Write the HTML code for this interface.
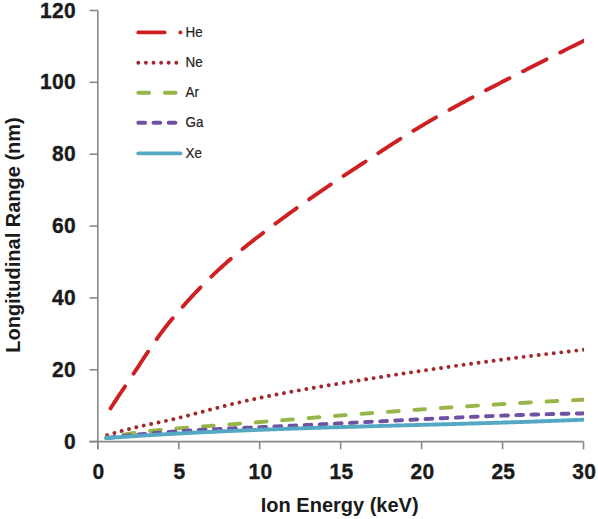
<!DOCTYPE html>
<html><head><meta charset="utf-8"><style>
html,body{margin:0;padding:0;background:#fff;width:598px;height:519px;overflow:hidden}
svg{display:block}
</style></head><body>
<svg width="598" height="519" viewBox="0 0 598 519">
<g stroke="#888888" stroke-width="1.6" fill="none" stroke-linecap="butt">
<line x1="97.8" y1="10.50" x2="97.8" y2="449.3"/>
<line x1="89.5" y1="441.6" x2="583.50" y2="441.6"/>
<line x1="89.5" y1="441.60" x2="97.8" y2="441.60"/><line x1="89.5" y1="369.75" x2="97.8" y2="369.75"/><line x1="89.5" y1="297.90" x2="97.8" y2="297.90"/><line x1="89.5" y1="226.05" x2="97.8" y2="226.05"/><line x1="89.5" y1="154.20" x2="97.8" y2="154.20"/><line x1="89.5" y1="82.35" x2="97.8" y2="82.35"/><line x1="89.5" y1="10.50" x2="97.8" y2="10.50"/><line x1="97.80" y1="441.6" x2="97.80" y2="449.3"/><line x1="178.75" y1="441.6" x2="178.75" y2="449.3"/><line x1="259.70" y1="441.6" x2="259.70" y2="449.3"/><line x1="340.65" y1="441.6" x2="340.65" y2="449.3"/><line x1="421.60" y1="441.6" x2="421.60" y2="449.3"/><line x1="502.55" y1="441.6" x2="502.55" y2="449.3"/><line x1="583.50" y1="441.6" x2="583.50" y2="449.3"/>
</g>
<g font-family="'Liberation Sans', sans-serif" font-weight="bold" font-size="21" fill="#1a1a1a" stroke="#1a1a1a" stroke-width="0.35" letter-spacing="0.3"><text transform="translate(76.0,448.70) scale(1,1.09)" text-anchor="end">0</text><text transform="translate(76.0,376.85) scale(1,1.09)" text-anchor="end">20</text><text transform="translate(76.0,305.00) scale(1,1.09)" text-anchor="end">40</text><text transform="translate(76.0,233.15) scale(1,1.09)" text-anchor="end">60</text><text transform="translate(76.0,161.30) scale(1,1.09)" text-anchor="end">80</text><text transform="translate(76.0,89.45) scale(1,1.09)" text-anchor="end">100</text><text transform="translate(76.0,17.60) scale(1,1.09)" text-anchor="end">120</text><text transform="translate(98.60,479.0) scale(1,1.09)" text-anchor="middle">0</text><text transform="translate(179.55,479.0) scale(1,1.09)" text-anchor="middle">5</text><text transform="translate(260.50,479.0) scale(1,1.09)" text-anchor="middle">10</text><text transform="translate(341.45,479.0) scale(1,1.09)" text-anchor="middle">15</text><text transform="translate(422.40,479.0) scale(1,1.09)" text-anchor="middle">20</text><text transform="translate(503.35,479.0) scale(1,1.09)" text-anchor="middle">25</text><text transform="translate(584.30,479.0) scale(1,1.09)" text-anchor="middle">30</text></g>
<text x="339.7" y="512.2" text-anchor="middle" font-family="'Liberation Sans', sans-serif" font-weight="bold" font-size="20" fill="#1a1a1a">Ion Energy (keV)</text>
<text transform="translate(20.2,235) rotate(-90)" text-anchor="middle" font-family="'Liberation Sans', sans-serif" font-weight="bold" font-size="20" fill="#1a1a1a">Longitudinal Range (nm)</text>
<defs><clipPath id="c"><rect x="0" y="0" width="584.0" height="519"/></clipPath></defs>
<g clip-path="url(#c)"><path d="M110.4,408.64 111.4,407.06 112.4,405.49 113.4,403.93 114.4,402.38 115.4,400.85 116.4,399.32 117.4,397.80 118.4,396.29 119.4,394.79 120.4,393.29 121.4,391.79 122.4,390.30 123.4,388.82 124.4,387.33 125.4,385.85 126.4,384.37 127.4,382.88 128.4,381.40 129.4,379.91 130.4,378.43 131.4,376.93 132.4,375.44 133.4,373.93 134.4,372.42 135.4,370.91 136.4,369.39 137.4,367.86 138.4,366.34 139.4,364.81 140.4,363.28 141.4,361.75 142.4,360.22 143.4,358.69 144.4,357.17 145.4,355.65 146.4,354.13 147.4,352.62 148.4,351.11 149.4,349.62 150.4,348.13 151.4,346.65 152.4,345.18 153.4,343.73 154.4,342.28 155.4,340.85 156.4,339.44 157.4,338.04 158.4,336.65 159.4,335.28 160.4,333.93 161.4,332.58 162.4,331.25 163.4,329.94 164.4,328.64 165.4,327.35 166.4,326.07 167.4,324.80 168.4,323.55 169.4,322.31 170.4,321.07 171.4,319.85 172.4,318.64 173.4,317.44 174.4,316.24 175.4,315.06 176.4,313.88 177.4,312.71 178.4,311.55 179.4,310.40 180.4,309.25 181.4,308.11 182.4,306.97 183.4,305.84 184.4,304.72 185.4,303.60 186.4,302.49 187.4,301.38 188.4,300.28 189.4,299.18 190.4,298.09 191.4,297.01 192.4,295.93 193.4,294.86 194.4,293.79 195.4,292.73 196.4,291.68 197.4,290.63 198.4,289.58 199.4,288.55 200.4,287.51 201.4,286.49 202.4,285.47 203.4,284.45 204.4,283.44 205.4,282.44 206.4,281.44 207.4,280.45 208.4,279.47 209.4,278.49 210.4,277.51 211.4,276.55 212.4,275.59 213.4,274.63 214.4,273.68 215.4,272.74 216.4,271.80 217.4,270.87 218.4,269.94 219.4,269.02 220.4,268.10 221.4,267.19 222.4,266.28 223.4,265.38 224.4,264.49 225.4,263.60 226.4,262.71 227.4,261.83 228.4,260.95 229.4,260.08 230.4,259.21 231.4,258.35 232.4,257.49 233.4,256.64 234.4,255.79 235.4,254.94 236.4,254.10 237.4,253.26 238.4,252.43 239.4,251.60 240.4,250.77 241.4,249.95 242.4,249.13 243.4,248.32 244.4,247.51 245.4,246.70 246.4,245.90 247.4,245.09 248.4,244.30 249.4,243.50 250.4,242.71 251.4,241.92 252.4,241.14 253.4,240.35 254.4,239.57 255.4,238.79 256.4,238.02 257.4,237.25 258.4,236.48 259.4,235.71 260.4,234.94 261.4,234.18 262.4,233.42 263.4,232.66 264.4,231.90 265.4,231.14 266.4,230.39 267.4,229.64 268.4,228.89 269.4,228.14 270.4,227.39 271.4,226.65 272.4,225.90 273.4,225.16 274.4,224.42 275.4,223.68 276.4,222.94 277.4,222.20 278.4,221.46 279.4,220.73 280.4,219.99 281.4,219.26 282.4,218.52 283.4,217.79 284.4,217.06 285.4,216.33 286.4,215.60 287.4,214.87 288.4,214.15 289.4,213.42 290.4,212.70 291.4,211.97 292.4,211.25 293.4,210.53 294.4,209.81 295.4,209.09 296.4,208.38 297.4,207.66 298.4,206.95 299.4,206.23 300.4,205.52 301.4,204.81 302.4,204.10 303.4,203.39 304.4,202.68 305.4,201.98 306.4,201.27 307.4,200.57 308.4,199.86 309.4,199.16 310.4,198.46 311.4,197.76 312.4,197.06 313.4,196.37 314.4,195.67 315.4,194.98 316.4,194.29 317.4,193.59 318.4,192.90 319.4,192.21 320.4,191.53 321.4,190.84 322.4,190.16 323.4,189.47 324.4,188.79 325.4,188.11 326.4,187.43 327.4,186.75 328.4,186.07 329.4,185.40 330.4,184.72 331.4,184.05 332.4,183.38 333.4,182.71 334.4,182.04 335.4,181.37 336.4,180.70 337.4,180.04 338.4,179.37 339.4,178.71 340.4,178.04 341.4,177.38 342.4,176.72 343.4,176.06 344.4,175.40 345.4,174.74 346.4,174.08 347.4,173.43 348.4,172.77 349.4,172.11 350.4,171.46 351.4,170.80 352.4,170.14 353.4,169.49 354.4,168.83 355.4,168.18 356.4,167.52 357.4,166.87 358.4,166.21 359.4,165.56 360.4,164.90 361.4,164.25 362.4,163.59 363.4,162.94 364.4,162.28 365.4,161.62 366.4,160.97 367.4,160.31 368.4,159.65 369.4,159.00 370.4,158.34 371.4,157.68 372.4,157.02 373.4,156.37 374.4,155.71 375.4,155.05 376.4,154.39 377.4,153.74 378.4,153.08 379.4,152.42 380.4,151.77 381.4,151.11 382.4,150.46 383.4,149.80 384.4,149.15 385.4,148.50 386.4,147.85 387.4,147.19 388.4,146.55 389.4,145.90 390.4,145.25 391.4,144.60 392.4,143.96 393.4,143.31 394.4,142.67 395.4,142.03 396.4,141.39 397.4,140.75 398.4,140.12 399.4,139.48 400.4,138.85 401.4,138.22 402.4,137.59 403.4,136.96 404.4,136.34 405.4,135.71 406.4,135.09 407.4,134.47 408.4,133.85 409.4,133.23 410.4,132.62 411.4,132.01 412.4,131.39 413.4,130.78 414.4,130.18 415.4,129.57 416.4,128.97 417.4,128.36 418.4,127.76 419.4,127.16 420.4,126.56 421.4,125.97 422.4,125.37 423.4,124.78 424.4,124.19 425.4,123.60 426.4,123.01 427.4,122.42 428.4,121.84 429.4,121.25 430.4,120.67 431.4,120.09 432.4,119.51 433.4,118.93 434.4,118.35 435.4,117.78 436.4,117.21 437.4,116.63 438.4,116.06 439.4,115.49 440.4,114.93 441.4,114.36 442.4,113.79 443.4,113.23 444.4,112.67 445.4,112.11 446.4,111.55 447.4,110.99 448.4,110.43 449.4,109.88 450.4,109.32 451.4,108.77 452.4,108.22 453.4,107.67 454.4,107.12 455.4,106.57 456.4,106.02 457.4,105.48 458.4,104.93 459.4,104.39 460.4,103.85 461.4,103.31 462.4,102.77 463.4,102.23 464.4,101.69 465.4,101.15 466.4,100.62 467.4,100.08 468.4,99.55 469.4,99.01 470.4,98.48 471.4,97.95 472.4,97.42 473.4,96.89 474.4,96.36 475.4,95.84 476.4,95.31 477.4,94.78 478.4,94.26 479.4,93.73 480.4,93.21 481.4,92.69 482.4,92.17 483.4,91.64 484.4,91.12 485.4,90.60 486.4,90.08 487.4,89.56 488.4,89.05 489.4,88.53 490.4,88.01 491.4,87.49 492.4,86.98 493.4,86.46 494.4,85.95 495.4,85.43 496.4,84.92 497.4,84.41 498.4,83.89 499.4,83.38 500.4,82.87 501.4,82.36 502.4,81.84 503.4,81.33 504.4,80.82 505.4,80.31 506.4,79.80 507.4,79.29 508.4,78.78 509.4,78.27 510.4,77.76 511.4,77.25 512.4,76.74 513.4,76.23 514.4,75.72 515.4,75.22 516.4,74.71 517.4,74.20 518.4,73.69 519.4,73.18 520.4,72.67 521.4,72.16 522.4,71.66 523.4,71.15 524.4,70.64 525.4,70.13 526.4,69.62 527.4,69.11 528.4,68.60 529.4,68.10 530.4,67.59 531.4,67.08 532.4,66.57 533.4,66.06 534.4,65.55 535.4,65.05 536.4,64.54 537.4,64.03 538.4,63.52 539.4,63.01 540.4,62.51 541.4,62.00 542.4,61.49 543.4,60.98 544.4,60.48 545.4,59.97 546.4,59.46 547.4,58.96 548.4,58.45 549.4,57.94 550.4,57.44 551.4,56.93 552.4,56.43 553.4,55.92 554.4,55.42 555.4,54.91 556.4,54.41 557.4,53.90 558.4,53.40 559.4,52.90 560.4,52.39 561.4,51.89 562.4,51.39 563.4,50.89 564.4,50.39 565.4,49.88 566.4,49.38 567.4,48.88 568.4,48.38 569.4,47.88 570.4,47.38 571.4,46.88 572.4,46.39 573.4,45.89 574.4,45.39 575.4,44.89 576.4,44.40 577.4,43.90 578.4,43.41 579.4,42.91 580.4,42.42 581.4,41.92 582.4,41.43 583.4,40.94 584.0,40.64" fill="none" stroke="#CE1F22" stroke-width="3.9" stroke-linecap="round" stroke-dasharray="26.300 15.293" stroke-dashoffset="41.288"/>
<path d="M106.2,435.46 107.2,435.16 108.2,434.85 109.2,434.55 110.2,434.26 111.2,433.96 112.2,433.66 113.2,433.37 114.2,433.08 115.2,432.79 116.2,432.50 117.2,432.22 118.2,431.94 119.2,431.66 120.2,431.38 121.2,431.10 122.2,430.83 123.2,430.56 124.2,430.29 125.2,430.02 126.2,429.76 127.2,429.49 128.2,429.24 129.2,428.98 130.2,428.73 131.2,428.48 132.2,428.23 133.2,427.98 134.2,427.74 135.2,427.50 136.2,427.27 137.2,427.03 138.2,426.80 139.2,426.58 140.2,426.35 141.2,426.13 142.2,425.91 143.2,425.69 144.2,425.48 145.2,425.26 146.2,425.05 147.2,424.84 148.2,424.63 149.2,424.42 150.2,424.21 151.2,424.00 152.2,423.80 153.2,423.59 154.2,423.38 155.2,423.18 156.2,422.97 157.2,422.76 158.2,422.55 159.2,422.34 160.2,422.13 161.2,421.92 162.2,421.70 163.2,421.49 164.2,421.27 165.2,421.05 166.2,420.83 167.2,420.61 168.2,420.38 169.2,420.15 170.2,419.92 171.2,419.69 172.2,419.45 173.2,419.22 174.2,418.98 175.2,418.74 176.2,418.50 177.2,418.25 178.2,418.01 179.2,417.76 180.2,417.51 181.2,417.26 182.2,417.01 183.2,416.76 184.2,416.50 185.2,416.25 186.2,415.99 187.2,415.74 188.2,415.48 189.2,415.22 190.2,414.96 191.2,414.70 192.2,414.44 193.2,414.17 194.2,413.91 195.2,413.65 196.2,413.38 197.2,413.12 198.2,412.85 199.2,412.59 200.2,412.32 201.2,412.06 202.2,411.79 203.2,411.53 204.2,411.26 205.2,411.00 206.2,410.73 207.2,410.46 208.2,410.20 209.2,409.93 210.2,409.67 211.2,409.41 212.2,409.14 213.2,408.88 214.2,408.62 215.2,408.36 216.2,408.10 217.2,407.84 218.2,407.58 219.2,407.32 220.2,407.06 221.2,406.81 222.2,406.55 223.2,406.30 224.2,406.05 225.2,405.79 226.2,405.54 227.2,405.30 228.2,405.05 229.2,404.80 230.2,404.56 231.2,404.32 232.2,404.07 233.2,403.83 234.2,403.59 235.2,403.36 236.2,403.12 237.2,402.89 238.2,402.65 239.2,402.42 240.2,402.19 241.2,401.96 242.2,401.73 243.2,401.50 244.2,401.27 245.2,401.05 246.2,400.82 247.2,400.60 248.2,400.38 249.2,400.15 250.2,399.93 251.2,399.72 252.2,399.50 253.2,399.28 254.2,399.06 255.2,398.85 256.2,398.64 257.2,398.42 258.2,398.21 259.2,398.00 260.2,397.79 261.2,397.58 262.2,397.38 263.2,397.17 264.2,396.96 265.2,396.76 266.2,396.56 267.2,396.35 268.2,396.15 269.2,395.95 270.2,395.75 271.2,395.55 272.2,395.35 273.2,395.16 274.2,394.96 275.2,394.76 276.2,394.57 277.2,394.38 278.2,394.18 279.2,393.99 280.2,393.80 281.2,393.61 282.2,393.42 283.2,393.23 284.2,393.04 285.2,392.85 286.2,392.67 287.2,392.48 288.2,392.30 289.2,392.11 290.2,391.93 291.2,391.74 292.2,391.56 293.2,391.38 294.2,391.20 295.2,391.02 296.2,390.84 297.2,390.66 298.2,390.48 299.2,390.30 300.2,390.13 301.2,389.95 302.2,389.77 303.2,389.60 304.2,389.42 305.2,389.25 306.2,389.07 307.2,388.90 308.2,388.73 309.2,388.56 310.2,388.38 311.2,388.21 312.2,388.04 313.2,387.87 314.2,387.70 315.2,387.53 316.2,387.36 317.2,387.19 318.2,387.03 319.2,386.86 320.2,386.69 321.2,386.52 322.2,386.36 323.2,386.19 324.2,386.02 325.2,385.86 326.2,385.69 327.2,385.53 328.2,385.36 329.2,385.20 330.2,385.04 331.2,384.87 332.2,384.71 333.2,384.55 334.2,384.38 335.2,384.22 336.2,384.06 337.2,383.90 338.2,383.73 339.2,383.57 340.2,383.41 341.2,383.25 342.2,383.09 343.2,382.93 344.2,382.77 345.2,382.61 346.2,382.45 347.2,382.29 348.2,382.13 349.2,381.97 350.2,381.81 351.2,381.65 352.2,381.49 353.2,381.33 354.2,381.17 355.2,381.01 356.2,380.85 357.2,380.69 358.2,380.53 359.2,380.37 360.2,380.22 361.2,380.06 362.2,379.90 363.2,379.74 364.2,379.58 365.2,379.43 366.2,379.27 367.2,379.11 368.2,378.95 369.2,378.80 370.2,378.64 371.2,378.48 372.2,378.33 373.2,378.17 374.2,378.02 375.2,377.86 376.2,377.70 377.2,377.55 378.2,377.39 379.2,377.24 380.2,377.08 381.2,376.93 382.2,376.77 383.2,376.62 384.2,376.47 385.2,376.31 386.2,376.16 387.2,376.00 388.2,375.85 389.2,375.70 390.2,375.54 391.2,375.39 392.2,375.24 393.2,375.09 394.2,374.93 395.2,374.78 396.2,374.63 397.2,374.48 398.2,374.32 399.2,374.17 400.2,374.02 401.2,373.87 402.2,373.72 403.2,373.57 404.2,373.42 405.2,373.27 406.2,373.12 407.2,372.97 408.2,372.82 409.2,372.67 410.2,372.52 411.2,372.37 412.2,372.22 413.2,372.07 414.2,371.92 415.2,371.77 416.2,371.62 417.2,371.47 418.2,371.33 419.2,371.18 420.2,371.03 421.2,370.88 422.2,370.74 423.2,370.59 424.2,370.44 425.2,370.30 426.2,370.15 427.2,370.00 428.2,369.86 429.2,369.71 430.2,369.56 431.2,369.42 432.2,369.27 433.2,369.13 434.2,368.98 435.2,368.84 436.2,368.69 437.2,368.55 438.2,368.41 439.2,368.26 440.2,368.12 441.2,367.97 442.2,367.83 443.2,367.69 444.2,367.54 445.2,367.40 446.2,367.26 447.2,367.12 448.2,366.97 449.2,366.83 450.2,366.69 451.2,366.55 452.2,366.41 453.2,366.27 454.2,366.13 455.2,365.98 456.2,365.84 457.2,365.70 458.2,365.56 459.2,365.42 460.2,365.28 461.2,365.14 462.2,365.01 463.2,364.87 464.2,364.73 465.2,364.59 466.2,364.45 467.2,364.31 468.2,364.17 469.2,364.04 470.2,363.90 471.2,363.76 472.2,363.62 473.2,363.49 474.2,363.35 475.2,363.21 476.2,363.08 477.2,362.94 478.2,362.81 479.2,362.67 480.2,362.54 481.2,362.40 482.2,362.26 483.2,362.13 484.2,362.00 485.2,361.86 486.2,361.73 487.2,361.59 488.2,361.46 489.2,361.33 490.2,361.19 491.2,361.06 492.2,360.93 493.2,360.80 494.2,360.66 495.2,360.53 496.2,360.40 497.2,360.27 498.2,360.14 499.2,360.00 500.2,359.87 501.2,359.74 502.2,359.61 503.2,359.48 504.2,359.35 505.2,359.22 506.2,359.09 507.2,358.96 508.2,358.84 509.2,358.71 510.2,358.58 511.2,358.45 512.2,358.32 513.2,358.19 514.2,358.07 515.2,357.94 516.2,357.81 517.2,357.68 518.2,357.56 519.2,357.43 520.2,357.30 521.2,357.18 522.2,357.05 523.2,356.93 524.2,356.80 525.2,356.68 526.2,356.55 527.2,356.43 528.2,356.30 529.2,356.18 530.2,356.06 531.2,355.93 532.2,355.81 533.2,355.69 534.2,355.56 535.2,355.44 536.2,355.32 537.2,355.20 538.2,355.07 539.2,354.95 540.2,354.83 541.2,354.71 542.2,354.59 543.2,354.47 544.2,354.35 545.2,354.23 546.2,354.11 547.2,353.99 548.2,353.87 549.2,353.75 550.2,353.63 551.2,353.51 552.2,353.40 553.2,353.28 554.2,353.16 555.2,353.04 556.2,352.93 557.2,352.81 558.2,352.69 559.2,352.57 560.2,352.46 561.2,352.34 562.2,352.23 563.2,352.11 564.2,352.00 565.2,351.88 566.2,351.77 567.2,351.65 568.2,351.54 569.2,351.42 570.2,351.31 571.2,351.20 572.2,351.08 573.2,350.97 574.2,350.86 575.2,350.75 576.2,350.63 577.2,350.52 578.2,350.41 579.2,350.30 580.2,350.19 581.2,350.08 582.2,349.97 583.2,349.86 584.0,349.77" fill="none" stroke="#A02A2E" stroke-width="3.9" stroke-linecap="round" stroke-dasharray="0.001 7.575" stroke-dashoffset="6.613"/>
<path d="M106.2,437.94 107.2,437.73 108.2,437.51 109.2,437.30 110.2,437.09 111.2,436.89 112.2,436.69 113.2,436.49 114.2,436.29 115.2,436.10 116.2,435.91 117.2,435.73 118.2,435.55 119.2,435.37 120.2,435.19 121.2,435.01 122.2,434.84 123.2,434.67 124.2,434.51 125.2,434.34 126.2,434.18 127.2,434.02 128.2,433.87 129.2,433.71 130.2,433.56 131.2,433.41 132.2,433.27 133.2,433.12 134.2,432.98 135.2,432.84 136.2,432.70 137.2,432.57 138.2,432.43 139.2,432.30 140.2,432.17 141.2,432.05 142.2,431.92 143.2,431.80 144.2,431.67 145.2,431.55 146.2,431.44 147.2,431.32 148.2,431.20 149.2,431.09 150.2,430.98 151.2,430.87 152.2,430.76 153.2,430.65 154.2,430.55 155.2,430.44 156.2,430.34 157.2,430.24 158.2,430.14 159.2,430.04 160.2,429.94 161.2,429.84 162.2,429.75 163.2,429.65 164.2,429.56 165.2,429.46 166.2,429.37 167.2,429.28 168.2,429.19 169.2,429.10 170.2,429.02 171.2,428.93 172.2,428.84 173.2,428.76 174.2,428.67 175.2,428.59 176.2,428.51 177.2,428.42 178.2,428.34 179.2,428.26 180.2,428.18 181.2,428.10 182.2,428.02 183.2,427.95 184.2,427.87 185.2,427.79 186.2,427.71 187.2,427.64 188.2,427.56 189.2,427.49 190.2,427.41 191.2,427.34 192.2,427.26 193.2,427.19 194.2,427.11 195.2,427.04 196.2,426.96 197.2,426.89 198.2,426.82 199.2,426.74 200.2,426.67 201.2,426.60 202.2,426.52 203.2,426.45 204.2,426.38 205.2,426.30 206.2,426.23 207.2,426.16 208.2,426.08 209.2,426.01 210.2,425.93 211.2,425.86 212.2,425.78 213.2,425.71 214.2,425.64 215.2,425.56 216.2,425.48 217.2,425.41 218.2,425.33 219.2,425.26 220.2,425.18 221.2,425.11 222.2,425.03 223.2,424.95 224.2,424.88 225.2,424.80 226.2,424.72 227.2,424.65 228.2,424.57 229.2,424.49 230.2,424.41 231.2,424.34 232.2,424.26 233.2,424.18 234.2,424.10 235.2,424.03 236.2,423.95 237.2,423.87 238.2,423.79 239.2,423.71 240.2,423.63 241.2,423.56 242.2,423.48 243.2,423.40 244.2,423.32 245.2,423.24 246.2,423.16 247.2,423.08 248.2,423.00 249.2,422.92 250.2,422.84 251.2,422.76 252.2,422.68 253.2,422.60 254.2,422.52 255.2,422.44 256.2,422.36 257.2,422.28 258.2,422.20 259.2,422.12 260.2,422.04 261.2,421.96 262.2,421.88 263.2,421.80 264.2,421.72 265.2,421.64 266.2,421.56 267.2,421.47 268.2,421.39 269.2,421.31 270.2,421.23 271.2,421.15 272.2,421.07 273.2,420.99 274.2,420.91 275.2,420.82 276.2,420.74 277.2,420.66 278.2,420.58 279.2,420.50 280.2,420.42 281.2,420.34 282.2,420.25 283.2,420.17 284.2,420.09 285.2,420.01 286.2,419.93 287.2,419.85 288.2,419.76 289.2,419.68 290.2,419.60 291.2,419.52 292.2,419.44 293.2,419.35 294.2,419.27 295.2,419.19 296.2,419.11 297.2,419.03 298.2,418.95 299.2,418.86 300.2,418.78 301.2,418.70 302.2,418.62 303.2,418.54 304.2,418.45 305.2,418.37 306.2,418.29 307.2,418.21 308.2,418.13 309.2,418.05 310.2,417.96 311.2,417.88 312.2,417.80 313.2,417.72 314.2,417.64 315.2,417.56 316.2,417.48 317.2,417.39 318.2,417.31 319.2,417.23 320.2,417.15 321.2,417.07 322.2,416.99 323.2,416.91 324.2,416.83 325.2,416.74 326.2,416.66 327.2,416.58 328.2,416.50 329.2,416.42 330.2,416.34 331.2,416.26 332.2,416.18 333.2,416.10 334.2,416.02 335.2,415.94 336.2,415.86 337.2,415.78 338.2,415.70 339.2,415.62 340.2,415.54 341.2,415.46 342.2,415.38 343.2,415.30 344.2,415.22 345.2,415.14 346.2,415.06 347.2,414.98 348.2,414.90 349.2,414.83 350.2,414.75 351.2,414.67 352.2,414.59 353.2,414.51 354.2,414.43 355.2,414.35 356.2,414.28 357.2,414.20 358.2,414.12 359.2,414.04 360.2,413.96 361.2,413.89 362.2,413.81 363.2,413.73 364.2,413.65 365.2,413.58 366.2,413.50 367.2,413.42 368.2,413.34 369.2,413.27 370.2,413.19 371.2,413.11 372.2,413.04 373.2,412.96 374.2,412.88 375.2,412.81 376.2,412.73 377.2,412.66 378.2,412.58 379.2,412.50 380.2,412.43 381.2,412.35 382.2,412.28 383.2,412.20 384.2,412.13 385.2,412.05 386.2,411.98 387.2,411.90 388.2,411.83 389.2,411.75 390.2,411.68 391.2,411.60 392.2,411.53 393.2,411.45 394.2,411.38 395.2,411.30 396.2,411.23 397.2,411.16 398.2,411.08 399.2,411.01 400.2,410.93 401.2,410.86 402.2,410.79 403.2,410.71 404.2,410.64 405.2,410.57 406.2,410.50 407.2,410.42 408.2,410.35 409.2,410.28 410.2,410.21 411.2,410.13 412.2,410.06 413.2,409.99 414.2,409.92 415.2,409.84 416.2,409.77 417.2,409.70 418.2,409.63 419.2,409.56 420.2,409.49 421.2,409.42 422.2,409.35 423.2,409.27 424.2,409.20 425.2,409.13 426.2,409.06 427.2,408.99 428.2,408.92 429.2,408.85 430.2,408.78 431.2,408.71 432.2,408.64 433.2,408.57 434.2,408.50 435.2,408.43 436.2,408.36 437.2,408.29 438.2,408.23 439.2,408.16 440.2,408.09 441.2,408.02 442.2,407.95 443.2,407.88 444.2,407.81 445.2,407.75 446.2,407.68 447.2,407.61 448.2,407.54 449.2,407.47 450.2,407.41 451.2,407.34 452.2,407.27 453.2,407.21 454.2,407.14 455.2,407.07 456.2,407.00 457.2,406.94 458.2,406.87 459.2,406.81 460.2,406.74 461.2,406.67 462.2,406.61 463.2,406.54 464.2,406.48 465.2,406.41 466.2,406.34 467.2,406.28 468.2,406.21 469.2,406.15 470.2,406.08 471.2,406.02 472.2,405.96 473.2,405.89 474.2,405.83 475.2,405.76 476.2,405.70 477.2,405.63 478.2,405.57 479.2,405.51 480.2,405.44 481.2,405.38 482.2,405.32 483.2,405.25 484.2,405.19 485.2,405.13 486.2,405.07 487.2,405.00 488.2,404.94 489.2,404.88 490.2,404.82 491.2,404.75 492.2,404.69 493.2,404.63 494.2,404.57 495.2,404.51 496.2,404.45 497.2,404.39 498.2,404.33 499.2,404.26 500.2,404.20 501.2,404.14 502.2,404.08 503.2,404.02 504.2,403.96 505.2,403.90 506.2,403.84 507.2,403.78 508.2,403.72 509.2,403.67 510.2,403.61 511.2,403.55 512.2,403.49 513.2,403.43 514.2,403.37 515.2,403.31 516.2,403.25 517.2,403.20 518.2,403.14 519.2,403.08 520.2,403.02 521.2,402.97 522.2,402.91 523.2,402.85 524.2,402.79 525.2,402.74 526.2,402.68 527.2,402.62 528.2,402.57 529.2,402.51 530.2,402.46 531.2,402.40 532.2,402.34 533.2,402.29 534.2,402.23 535.2,402.18 536.2,402.12 537.2,402.07 538.2,402.01 539.2,401.96 540.2,401.90 541.2,401.85 542.2,401.80 543.2,401.74 544.2,401.69 545.2,401.63 546.2,401.58 547.2,401.53 548.2,401.47 549.2,401.42 550.2,401.37 551.2,401.32 552.2,401.26 553.2,401.21 554.2,401.16 555.2,401.11 556.2,401.05 557.2,401.00 558.2,400.95 559.2,400.90 560.2,400.85 561.2,400.80 562.2,400.75 563.2,400.70 564.2,400.65 565.2,400.60 566.2,400.55 567.2,400.50 568.2,400.45 569.2,400.40 570.2,400.35 571.2,400.30 572.2,400.25 573.2,400.20 574.2,400.15 575.2,400.10 576.2,400.05 577.2,400.00 578.2,399.96 579.2,399.91 580.2,399.86 581.2,399.81 582.2,399.77 583.2,399.72 584.0,399.68" fill="none" stroke="#97B64A" stroke-width="3.9" stroke-linecap="round" stroke-dasharray="10.800 15.710" stroke-dashoffset="8.599"/>
<path d="M106.2,438.10 107.2,437.97 108.2,437.84 109.2,437.71 110.2,437.59 111.2,437.46 112.2,437.34 113.2,437.22 114.2,437.10 115.2,436.98 116.2,436.86 117.2,436.74 118.2,436.62 119.2,436.51 120.2,436.39 121.2,436.28 122.2,436.17 123.2,436.05 124.2,435.94 125.2,435.83 126.2,435.73 127.2,435.62 128.2,435.51 129.2,435.41 130.2,435.30 131.2,435.20 132.2,435.10 133.2,434.99 134.2,434.89 135.2,434.79 136.2,434.70 137.2,434.60 138.2,434.50 139.2,434.41 140.2,434.31 141.2,434.22 142.2,434.12 143.2,434.03 144.2,433.94 145.2,433.85 146.2,433.76 147.2,433.67 148.2,433.58 149.2,433.50 150.2,433.41 151.2,433.32 152.2,433.24 153.2,433.16 154.2,433.07 155.2,432.99 156.2,432.91 157.2,432.83 158.2,432.75 159.2,432.67 160.2,432.59 161.2,432.51 162.2,432.44 163.2,432.36 164.2,432.29 165.2,432.21 166.2,432.14 167.2,432.06 168.2,431.99 169.2,431.92 170.2,431.85 171.2,431.78 172.2,431.71 173.2,431.64 174.2,431.57 175.2,431.50 176.2,431.43 177.2,431.37 178.2,431.30 179.2,431.24 180.2,431.17 181.2,431.11 182.2,431.04 183.2,430.98 184.2,430.92 185.2,430.85 186.2,430.79 187.2,430.73 188.2,430.67 189.2,430.61 190.2,430.55 191.2,430.49 192.2,430.43 193.2,430.38 194.2,430.32 195.2,430.26 196.2,430.20 197.2,430.15 198.2,430.09 199.2,430.04 200.2,429.98 201.2,429.93 202.2,429.87 203.2,429.82 204.2,429.77 205.2,429.71 206.2,429.66 207.2,429.61 208.2,429.56 209.2,429.50 210.2,429.45 211.2,429.40 212.2,429.35 213.2,429.30 214.2,429.25 215.2,429.20 216.2,429.15 217.2,429.10 218.2,429.06 219.2,429.01 220.2,428.96 221.2,428.91 222.2,428.86 223.2,428.82 224.2,428.77 225.2,428.72 226.2,428.67 227.2,428.63 228.2,428.58 229.2,428.54 230.2,428.49 231.2,428.44 232.2,428.40 233.2,428.35 234.2,428.31 235.2,428.26 236.2,428.22 237.2,428.17 238.2,428.13 239.2,428.08 240.2,428.04 241.2,427.99 242.2,427.95 243.2,427.90 244.2,427.86 245.2,427.82 246.2,427.77 247.2,427.73 248.2,427.68 249.2,427.64 250.2,427.59 251.2,427.55 252.2,427.51 253.2,427.46 254.2,427.42 255.2,427.37 256.2,427.33 257.2,427.28 258.2,427.24 259.2,427.20 260.2,427.15 261.2,427.11 262.2,427.06 263.2,427.02 264.2,426.97 265.2,426.93 266.2,426.88 267.2,426.84 268.2,426.79 269.2,426.75 270.2,426.70 271.2,426.66 272.2,426.61 273.2,426.57 274.2,426.52 275.2,426.47 276.2,426.43 277.2,426.38 278.2,426.34 279.2,426.29 280.2,426.24 281.2,426.20 282.2,426.15 283.2,426.11 284.2,426.06 285.2,426.01 286.2,425.97 287.2,425.92 288.2,425.87 289.2,425.83 290.2,425.78 291.2,425.73 292.2,425.68 293.2,425.64 294.2,425.59 295.2,425.54 296.2,425.50 297.2,425.45 298.2,425.40 299.2,425.35 300.2,425.31 301.2,425.26 302.2,425.21 303.2,425.16 304.2,425.11 305.2,425.07 306.2,425.02 307.2,424.97 308.2,424.92 309.2,424.87 310.2,424.83 311.2,424.78 312.2,424.73 313.2,424.68 314.2,424.63 315.2,424.58 316.2,424.54 317.2,424.49 318.2,424.44 319.2,424.39 320.2,424.34 321.2,424.29 322.2,424.24 323.2,424.19 324.2,424.14 325.2,424.10 326.2,424.05 327.2,424.00 328.2,423.95 329.2,423.90 330.2,423.85 331.2,423.80 332.2,423.75 333.2,423.70 334.2,423.65 335.2,423.60 336.2,423.55 337.2,423.50 338.2,423.45 339.2,423.40 340.2,423.35 341.2,423.30 342.2,423.25 343.2,423.20 344.2,423.15 345.2,423.10 346.2,423.05 347.2,423.00 348.2,422.95 349.2,422.90 350.2,422.85 351.2,422.80 352.2,422.75 353.2,422.70 354.2,422.65 355.2,422.60 356.2,422.55 357.2,422.50 358.2,422.45 359.2,422.40 360.2,422.35 361.2,422.30 362.2,422.25 363.2,422.20 364.2,422.15 365.2,422.10 366.2,422.05 367.2,422.00 368.2,421.95 369.2,421.89 370.2,421.84 371.2,421.79 372.2,421.74 373.2,421.69 374.2,421.64 375.2,421.59 376.2,421.54 377.2,421.49 378.2,421.44 379.2,421.39 380.2,421.34 381.2,421.28 382.2,421.23 383.2,421.18 384.2,421.13 385.2,421.08 386.2,421.03 387.2,420.98 388.2,420.93 389.2,420.88 390.2,420.83 391.2,420.78 392.2,420.73 393.2,420.68 394.2,420.62 395.2,420.57 396.2,420.52 397.2,420.47 398.2,420.42 399.2,420.37 400.2,420.32 401.2,420.27 402.2,420.22 403.2,420.17 404.2,420.12 405.2,420.07 406.2,420.02 407.2,419.97 408.2,419.92 409.2,419.87 410.2,419.82 411.2,419.77 412.2,419.72 413.2,419.67 414.2,419.62 415.2,419.57 416.2,419.52 417.2,419.47 418.2,419.42 419.2,419.37 420.2,419.32 421.2,419.27 422.2,419.22 423.2,419.17 424.2,419.12 425.2,419.07 426.2,419.02 427.2,418.97 428.2,418.92 429.2,418.88 430.2,418.83 431.2,418.78 432.2,418.73 433.2,418.68 434.2,418.63 435.2,418.58 436.2,418.54 437.2,418.49 438.2,418.44 439.2,418.39 440.2,418.34 441.2,418.30 442.2,418.25 443.2,418.20 444.2,418.15 445.2,418.11 446.2,418.06 447.2,418.01 448.2,417.96 449.2,417.92 450.2,417.87 451.2,417.82 452.2,417.78 453.2,417.73 454.2,417.68 455.2,417.64 456.2,417.59 457.2,417.55 458.2,417.50 459.2,417.46 460.2,417.41 461.2,417.36 462.2,417.32 463.2,417.27 464.2,417.23 465.2,417.18 466.2,417.14 467.2,417.10 468.2,417.05 469.2,417.01 470.2,416.96 471.2,416.92 472.2,416.88 473.2,416.83 474.2,416.79 475.2,416.74 476.2,416.70 477.2,416.66 478.2,416.62 479.2,416.57 480.2,416.53 481.2,416.49 482.2,416.45 483.2,416.41 484.2,416.36 485.2,416.32 486.2,416.28 487.2,416.24 488.2,416.20 489.2,416.16 490.2,416.12 491.2,416.08 492.2,416.04 493.2,416.00 494.2,415.96 495.2,415.92 496.2,415.88 497.2,415.84 498.2,415.80 499.2,415.76 500.2,415.72 501.2,415.68 502.2,415.65 503.2,415.61 504.2,415.57 505.2,415.53 506.2,415.49 507.2,415.46 508.2,415.42 509.2,415.38 510.2,415.35 511.2,415.31 512.2,415.28 513.2,415.24 514.2,415.20 515.2,415.17 516.2,415.13 517.2,415.10 518.2,415.06 519.2,415.03 520.2,415.00 521.2,414.96 522.2,414.93 523.2,414.89 524.2,414.86 525.2,414.83 526.2,414.80 527.2,414.76 528.2,414.73 529.2,414.70 530.2,414.67 531.2,414.64 532.2,414.61 533.2,414.57 534.2,414.54 535.2,414.51 536.2,414.48 537.2,414.45 538.2,414.42 539.2,414.40 540.2,414.37 541.2,414.34 542.2,414.31 543.2,414.28 544.2,414.25 545.2,414.23 546.2,414.20 547.2,414.17 548.2,414.15 549.2,414.12 550.2,414.09 551.2,414.07 552.2,414.04 553.2,414.02 554.2,413.99 555.2,413.97 556.2,413.94 557.2,413.92 558.2,413.90 559.2,413.87 560.2,413.85 561.2,413.83 562.2,413.80 563.2,413.78 564.2,413.76 565.2,413.74 566.2,413.72 567.2,413.70 568.2,413.68 569.2,413.66 570.2,413.64 571.2,413.62 572.2,413.60 573.2,413.58 574.2,413.56 575.2,413.54 576.2,413.52 577.2,413.51 578.2,413.49 579.2,413.47 580.2,413.46 581.2,413.44 582.2,413.43 583.2,413.41 584.0,413.40" fill="none" stroke="#7050A0" stroke-width="3.9" stroke-linecap="round" stroke-dasharray="6.800 8.335" stroke-dashoffset="12.995"/>
<path d="M106.0,438.13 107.0,438.06 108.0,437.99 109.0,437.91 110.0,437.84 111.0,437.77 112.0,437.70 113.0,437.62 114.0,437.55 115.0,437.48 116.0,437.41 117.0,437.34 118.0,437.27 119.0,437.20 120.0,437.13 121.0,437.06 122.0,436.99 123.0,436.92 124.0,436.85 125.0,436.78 126.0,436.72 127.0,436.65 128.0,436.58 129.0,436.51 130.0,436.45 131.0,436.38 132.0,436.31 133.0,436.25 134.0,436.18 135.0,436.12 136.0,436.05 137.0,435.99 138.0,435.92 139.0,435.86 140.0,435.79 141.0,435.73 142.0,435.66 143.0,435.60 144.0,435.54 145.0,435.48 146.0,435.41 147.0,435.35 148.0,435.29 149.0,435.23 150.0,435.17 151.0,435.10 152.0,435.04 153.0,434.98 154.0,434.92 155.0,434.86 156.0,434.80 157.0,434.74 158.0,434.68 159.0,434.62 160.0,434.57 161.0,434.51 162.0,434.45 163.0,434.39 164.0,434.33 165.0,434.28 166.0,434.22 167.0,434.16 168.0,434.10 169.0,434.05 170.0,433.99 171.0,433.93 172.0,433.88 173.0,433.82 174.0,433.77 175.0,433.71 176.0,433.66 177.0,433.60 178.0,433.55 179.0,433.49 180.0,433.44 181.0,433.39 182.0,433.33 183.0,433.28 184.0,433.23 185.0,433.17 186.0,433.12 187.0,433.07 188.0,433.02 189.0,432.97 190.0,432.91 191.0,432.86 192.0,432.81 193.0,432.76 194.0,432.71 195.0,432.66 196.0,432.61 197.0,432.56 198.0,432.51 199.0,432.46 200.0,432.41 201.0,432.36 202.0,432.31 203.0,432.26 204.0,432.21 205.0,432.16 206.0,432.12 207.0,432.07 208.0,432.02 209.0,431.97 210.0,431.93 211.0,431.88 212.0,431.83 213.0,431.78 214.0,431.74 215.0,431.69 216.0,431.65 217.0,431.60 218.0,431.55 219.0,431.51 220.0,431.46 221.0,431.42 222.0,431.37 223.0,431.33 224.0,431.28 225.0,431.24 226.0,431.19 227.0,431.15 228.0,431.11 229.0,431.06 230.0,431.02 231.0,430.98 232.0,430.93 233.0,430.89 234.0,430.85 235.0,430.80 236.0,430.76 237.0,430.72 238.0,430.68 239.0,430.64 240.0,430.59 241.0,430.55 242.0,430.51 243.0,430.47 244.0,430.43 245.0,430.39 246.0,430.35 247.0,430.31 248.0,430.27 249.0,430.23 250.0,430.19 251.0,430.15 252.0,430.11 253.0,430.07 254.0,430.03 255.0,429.99 256.0,429.95 257.0,429.91 258.0,429.87 259.0,429.83 260.0,429.79 261.0,429.76 262.0,429.72 263.0,429.68 264.0,429.64 265.0,429.60 266.0,429.57 267.0,429.53 268.0,429.49 269.0,429.45 270.0,429.42 271.0,429.38 272.0,429.34 273.0,429.31 274.0,429.27 275.0,429.23 276.0,429.20 277.0,429.16 278.0,429.13 279.0,429.09 280.0,429.06 281.0,429.02 282.0,428.98 283.0,428.95 284.0,428.91 285.0,428.88 286.0,428.84 287.0,428.81 288.0,428.78 289.0,428.74 290.0,428.71 291.0,428.67 292.0,428.64 293.0,428.60 294.0,428.57 295.0,428.54 296.0,428.50 297.0,428.47 298.0,428.44 299.0,428.40 300.0,428.37 301.0,428.34 302.0,428.30 303.0,428.27 304.0,428.24 305.0,428.21 306.0,428.17 307.0,428.14 308.0,428.11 309.0,428.08 310.0,428.04 311.0,428.01 312.0,427.98 313.0,427.95 314.0,427.92 315.0,427.89 316.0,427.85 317.0,427.82 318.0,427.79 319.0,427.76 320.0,427.73 321.0,427.70 322.0,427.67 323.0,427.64 324.0,427.61 325.0,427.58 326.0,427.54 327.0,427.51 328.0,427.48 329.0,427.45 330.0,427.42 331.0,427.39 332.0,427.36 333.0,427.33 334.0,427.30 335.0,427.27 336.0,427.24 337.0,427.21 338.0,427.18 339.0,427.16 340.0,427.13 341.0,427.10 342.0,427.07 343.0,427.04 344.0,427.01 345.0,426.98 346.0,426.95 347.0,426.92 348.0,426.89 349.0,426.86 350.0,426.84 351.0,426.81 352.0,426.78 353.0,426.75 354.0,426.72 355.0,426.69 356.0,426.66 357.0,426.64 358.0,426.61 359.0,426.58 360.0,426.55 361.0,426.52 362.0,426.49 363.0,426.47 364.0,426.44 365.0,426.41 366.0,426.38 367.0,426.36 368.0,426.33 369.0,426.30 370.0,426.27 371.0,426.24 372.0,426.22 373.0,426.19 374.0,426.16 375.0,426.13 376.0,426.11 377.0,426.08 378.0,426.05 379.0,426.02 380.0,426.00 381.0,425.97 382.0,425.94 383.0,425.92 384.0,425.89 385.0,425.86 386.0,425.83 387.0,425.81 388.0,425.78 389.0,425.75 390.0,425.73 391.0,425.70 392.0,425.67 393.0,425.64 394.0,425.62 395.0,425.59 396.0,425.56 397.0,425.54 398.0,425.51 399.0,425.48 400.0,425.46 401.0,425.43 402.0,425.40 403.0,425.38 404.0,425.35 405.0,425.32 406.0,425.29 407.0,425.27 408.0,425.24 409.0,425.21 410.0,425.19 411.0,425.16 412.0,425.13 413.0,425.11 414.0,425.08 415.0,425.05 416.0,425.03 417.0,425.00 418.0,424.97 419.0,424.95 420.0,424.92 421.0,424.89 422.0,424.87 423.0,424.84 424.0,424.81 425.0,424.78 426.0,424.76 427.0,424.73 428.0,424.70 429.0,424.68 430.0,424.65 431.0,424.62 432.0,424.60 433.0,424.57 434.0,424.54 435.0,424.52 436.0,424.49 437.0,424.46 438.0,424.43 439.0,424.41 440.0,424.38 441.0,424.35 442.0,424.32 443.0,424.30 444.0,424.27 445.0,424.24 446.0,424.22 447.0,424.19 448.0,424.16 449.0,424.13 450.0,424.11 451.0,424.08 452.0,424.05 453.0,424.02 454.0,424.00 455.0,423.97 456.0,423.94 457.0,423.91 458.0,423.88 459.0,423.86 460.0,423.83 461.0,423.80 462.0,423.77 463.0,423.74 464.0,423.72 465.0,423.69 466.0,423.66 467.0,423.63 468.0,423.60 469.0,423.57 470.0,423.55 471.0,423.52 472.0,423.49 473.0,423.46 474.0,423.43 475.0,423.40 476.0,423.37 477.0,423.34 478.0,423.32 479.0,423.29 480.0,423.26 481.0,423.23 482.0,423.20 483.0,423.17 484.0,423.14 485.0,423.11 486.0,423.08 487.0,423.05 488.0,423.02 489.0,422.99 490.0,422.96 491.0,422.93 492.0,422.90 493.0,422.87 494.0,422.84 495.0,422.81 496.0,422.78 497.0,422.75 498.0,422.72 499.0,422.69 500.0,422.66 501.0,422.63 502.0,422.60 503.0,422.57 504.0,422.53 505.0,422.50 506.0,422.47 507.0,422.44 508.0,422.41 509.0,422.38 510.0,422.35 511.0,422.31 512.0,422.28 513.0,422.25 514.0,422.22 515.0,422.19 516.0,422.15 517.0,422.12 518.0,422.09 519.0,422.06 520.0,422.02 521.0,421.99 522.0,421.96 523.0,421.93 524.0,421.89 525.0,421.86 526.0,421.83 527.0,421.79 528.0,421.76 529.0,421.73 530.0,421.69 531.0,421.66 532.0,421.62 533.0,421.59 534.0,421.55 535.0,421.52 536.0,421.49 537.0,421.45 538.0,421.42 539.0,421.38 540.0,421.35 541.0,421.31 542.0,421.28 543.0,421.24 544.0,421.20 545.0,421.17 546.0,421.13 547.0,421.10 548.0,421.06 549.0,421.02 550.0,420.99 551.0,420.95 552.0,420.92 553.0,420.88 554.0,420.84 555.0,420.80 556.0,420.77 557.0,420.73 558.0,420.69 559.0,420.65 560.0,420.62 561.0,420.58 562.0,420.54 563.0,420.50 564.0,420.46 565.0,420.42 566.0,420.39 567.0,420.35 568.0,420.31 569.0,420.27 570.0,420.23 571.0,420.19 572.0,420.15 573.0,420.11 574.0,420.07 575.0,420.03 576.0,419.99 577.0,419.95 578.0,419.91 579.0,419.87 580.0,419.83 581.0,419.79 582.0,419.74 583.0,419.70 584.0,419.66" fill="none" stroke="#55A8C4" stroke-width="3.9" stroke-linecap="round"/></g>
<g font-family="'Liberation Sans', sans-serif" font-size="13.4" fill="#222222" stroke="#222222" stroke-width="0.2"><path d="M138.3,32.4 L180.5,32.4" stroke="#CE1F22" stroke-width="3.9" stroke-linecap="round" stroke-dasharray="26.300 15.700" stroke-dashoffset="0"/><text transform="translate(185.5,37.00) scale(1,1.1)">He</text><path d="M138.3,62.7 L180.5,62.7" stroke="#A02A2E" stroke-width="3.9" stroke-linecap="round" stroke-dasharray="0.001 7.599" stroke-dashoffset="0"/><text transform="translate(185.5,67.30) scale(1,1.1)">Ne</text><path d="M138.3,92.7 L180.5,92.7" stroke="#97B64A" stroke-width="3.9" stroke-linecap="round" stroke-dasharray="10.800 15.700" stroke-dashoffset="0"/><text transform="translate(185.5,97.30) scale(1,1.1)">Ar</text><path d="M138.3,122.7 L180.5,122.7" stroke="#7050A0" stroke-width="3.9" stroke-linecap="round" stroke-dasharray="6.800 8.350" stroke-dashoffset="0"/><text transform="translate(185.5,127.30) scale(1,1.1)">Ga</text><path d="M138.3,153.4 L180.5,153.4" stroke="#55A8C4" stroke-width="3.9" stroke-linecap="round"/><text transform="translate(185.5,158.00) scale(1,1.1)">Xe</text></g>
</svg>
</body></html>
